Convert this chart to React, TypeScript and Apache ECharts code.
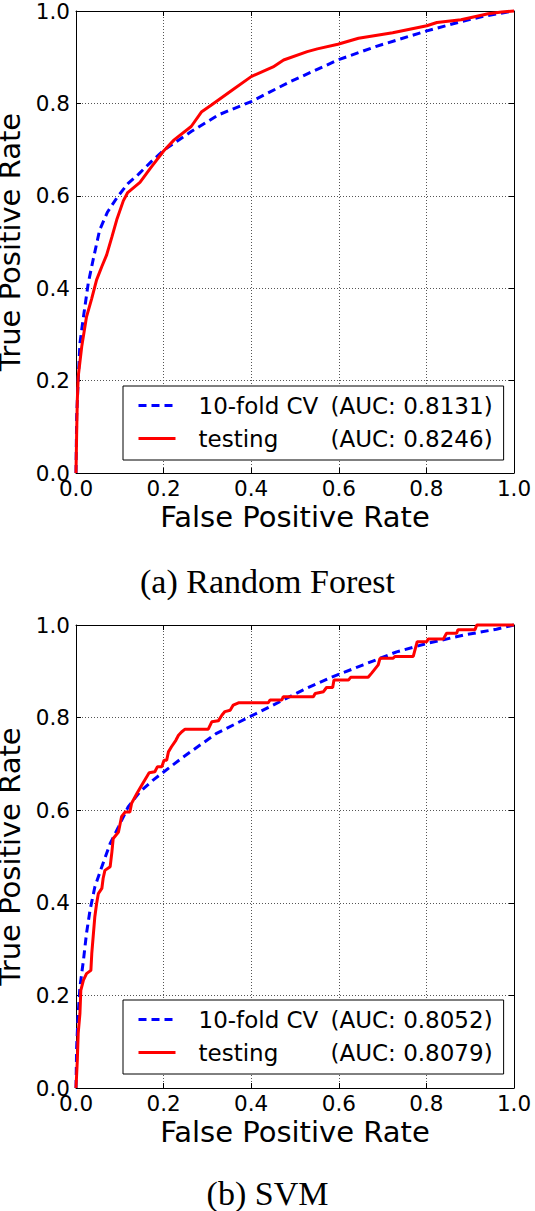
import React, { useEffect, useRef } from "react";
import * as echarts from "echarts";

const tickValues = [0, 0.2, 0.4, 0.6, 0.8, 1.0];
const tickLabels = ["0.0", "0.2", "0.4", "0.6", "0.8", "1.0"];

const xAxisName = "False Positive Rate";
const yAxisName = "True Positive Rate";
const captions = ["(a) Random Forest", "(b) SVM"];

const rfCvName = "10-fold CV (AUC: 0.8131)";
const rfTestName = "testing (AUC: 0.8246)";
const svmCvName = "10-fold CV (AUC: 0.8052)";
const svmTestName = "testing (AUC: 0.8079)";

const rfCvFpr = [0, 0.0015, 0.005, 0.009, 0.017, 0.028, 0.039, 0.054, 0.072, 0.095, 0.119, 0.143, 0.173, 0.201, 0.263, 0.325, 0.4, 0.489, 0.598, 0.684, 0.801, 0.879, 0.933, 1.0];
const rfCvTpr = [0, 0.122, 0.201, 0.281, 0.338, 0.411, 0.461, 0.526, 0.565, 0.598, 0.627, 0.647, 0.675, 0.699, 0.739, 0.775, 0.804, 0.847, 0.894, 0.923, 0.957, 0.977, 0.989, 1.0];

const rfTestFpr = [0, 0.0015, 0.003, 0.005, 0.013, 0.024, 0.036, 0.047, 0.059, 0.07, 0.082, 0.093, 0.108, 0.118, 0.146, 0.17, 0.2, 0.224, 0.263, 0.287, 0.31, 0.357, 0.4, 0.45, 0.474, 0.528, 0.551, 0.598, 0.645, 0.723, 0.801, 0.824, 0.879, 0.941, 0.972, 1.0];
const rfTestTpr = [0, 0.086, 0.158, 0.208, 0.273, 0.338, 0.378, 0.418, 0.447, 0.472, 0.511, 0.548, 0.589, 0.607, 0.629, 0.66, 0.697, 0.721, 0.75, 0.782, 0.797, 0.829, 0.858, 0.879, 0.894, 0.912, 0.918, 0.928, 0.941, 0.953, 0.968, 0.975, 0.981, 0.994, 0.998, 1.0];

const svmCvFpr = [0, 0.0015, 0.005, 0.009, 0.017, 0.024, 0.032, 0.043, 0.059, 0.078, 0.097, 0.119, 0.146, 0.176, 0.245, 0.321, 0.397, 0.473, 0.519, 0.58, 0.656, 0.732, 0.801, 0.884, 0.96, 1.0];
const svmCvTpr = [0, 0.089, 0.161, 0.218, 0.276, 0.334, 0.384, 0.434, 0.478, 0.528, 0.564, 0.607, 0.64, 0.665, 0.715, 0.766, 0.802, 0.838, 0.86, 0.886, 0.914, 0.942, 0.96, 0.978, 0.991, 1.0];

const svmTestFpr = [0, 0.003, 0.005, 0.009, 0.011, 0.017, 0.024, 0.034, 0.036, 0.043, 0.047, 0.051, 0.059, 0.062, 0.066, 0.078, 0.082, 0.085, 0.097, 0.104, 0.112, 0.123, 0.127, 0.139, 0.15, 0.167, 0.18, 0.186, 0.196, 0.201, 0.207, 0.211, 0.218, 0.228, 0.234, 0.241, 0.249, 0.302, 0.31, 0.325, 0.333, 0.34, 0.352, 0.359, 0.371, 0.439, 0.443, 0.47, 0.473, 0.542, 0.546, 0.565, 0.572, 0.586, 0.589, 0.622, 0.627, 0.667, 0.675, 0.69, 0.694, 0.724, 0.728, 0.77, 0.779, 0.801, 0.804, 0.839, 0.846, 0.869, 0.872, 0.911, 0.915, 1.0];
const svmTestTpr = [0, 0.06, 0.118, 0.161, 0.211, 0.233, 0.247, 0.254, 0.29, 0.37, 0.398, 0.42, 0.431, 0.453, 0.47, 0.478, 0.51, 0.539, 0.553, 0.586, 0.596, 0.596, 0.615, 0.636, 0.654, 0.681, 0.683, 0.694, 0.694, 0.708, 0.708, 0.726, 0.737, 0.751, 0.762, 0.769, 0.775, 0.775, 0.791, 0.793, 0.805, 0.813, 0.816, 0.827, 0.832, 0.832, 0.838, 0.838, 0.845, 0.845, 0.852, 0.856, 0.865, 0.865, 0.881, 0.881, 0.887, 0.887, 0.896, 0.914, 0.928, 0.928, 0.932, 0.932, 0.964, 0.964, 0.97, 0.97, 0.982, 0.982, 0.99, 0.99, 1.0, 1.0];

const SANS = "DejaVu Sans";
const SERIF = "Liberation Serif";
const CV_COLOR = "#0000ff";
const TEST_COLOR = "#ff0000";
const CV_DASH = [8, 5];

function zip(xs: number[], ys: number[]) {
  return xs.map((x, i) => [x, ys[i]]);
}

function tickFormatter(v: number) {
  const idx = tickValues.findIndex((t) => Math.abs(t - v) < 1e-6);
  return idx >= 0 ? tickLabels[idx] : "";
}

const gridBoxes = [
  { left: 76, top: 11, width: 438, height: 462 },
  { left: 76, top: 625, width: 438, height: 463 },
];

function mainXAxis(gridIndex: number) {
  return {
    gridIndex,
    type: "value",
    position: "bottom",
    min: 0,
    max: 1,
    interval: 0.2,
    axisLine: { show: true, onZero: false, lineStyle: { color: "#000", width: 1 } },
    axisTick: { show: true, inside: true, length: 5, lineStyle: { color: "#000", width: 1 } },
    axisLabel: { margin: 4, fontSize: 21.5, fontFamily: SANS, color: "#000", formatter: tickFormatter },
    splitLine: { show: true, lineStyle: { type: [1, 2], color: "#555", width: 1 } },
    name: xAxisName,
    nameLocation: "middle",
    nameGap: 29,
    nameTextStyle: { fontSize: 29, fontFamily: SANS, color: "#000" },
  };
}

function mainYAxis(gridIndex: number) {
  return {
    gridIndex,
    type: "value",
    position: "left",
    min: 0,
    max: 1,
    interval: 0.2,
    axisLine: { show: true, onZero: false, lineStyle: { color: "#000", width: 1 } },
    axisTick: { show: true, inside: true, length: 5, lineStyle: { color: "#000", width: 1 } },
    axisLabel: { margin: 6, fontSize: 21.5, fontFamily: SANS, color: "#000", formatter: tickFormatter },
    splitLine: { show: true, lineStyle: { type: [1, 2], color: "#555", width: 1 } },
    name: yAxisName,
    nameLocation: "middle",
    nameRotate: 90,
    nameGap: 44,
    nameTextStyle: { fontSize: 29, lineHeight: 28, fontFamily: SANS, color: "#000" },
  };
}

function frameAxis(gridIndex: number, position: string) {
  return {
    gridIndex,
    type: "value",
    position,
    min: 0,
    max: 1,
    interval: 0.2,
    axisLine: { show: true, onZero: false, lineStyle: { color: "#000", width: 1 } },
    axisTick: { show: true, inside: true, length: 5, lineStyle: { color: "#000", width: 1 } },
    axisLabel: { show: false },
    splitLine: { show: false },
  };
}

function legendFor(top: number, cvName: string, testName: string) {
  return {
    left: 123,
    top,
    orient: "vertical",
    selectedMode: false,
    itemWidth: 37,
    itemHeight: 14,
    itemGap: 10,
    padding: [8, 11, 10, 14],
    borderColor: "#000",
    borderWidth: 1,
    borderRadius: 0,
    backgroundColor: "#fff",
    itemStyle: { color: "rgba(0,0,0,0)", borderWidth: 0 },
    data: [
      { name: cvName, lineStyle: { color: CV_COLOR, width: 3, type: CV_DASH } },
      { name: testName, lineStyle: { color: TEST_COLOR, width: 3, type: "solid" } },
    ],
    formatter: (name: string) => {
      const i = name.indexOf(" (");
      return "{n|" + name.slice(0, i) + "}{v|" + name.slice(i + 1) + "}";
    },
    textStyle: {
      fontFamily: SANS,
      fontSize: 23,
      color: "#000",
      rich: {
        n: { fontFamily: SANS, fontSize: 23, color: "#000", width: 132, padding: [0, 0, 0, 18] },
        v: { fontFamily: SANS, fontSize: 23, color: "#000" },
      },
    },
  };
}

function lineSeries(name: string, idx: number, data: number[][], color: string, dashed: boolean, z: number) {
  return {
    type: "line",
    name,
    xAxisIndex: idx * 2,
    yAxisIndex: idx * 2,
    data,
    symbol: "none",
    showSymbol: false,
    clip: false,
    smooth: false,
    z,
    itemStyle: { color },
    lineStyle: { color, width: 3, type: dashed ? CV_DASH : "solid" },
  };
}

export default function App() {
  const ref = useRef<HTMLDivElement>(null);
  useEffect(() => {
    if (!ref.current) return;
    const chart = echarts.init(ref.current, null, { renderer: "svg" });
    const option = {
      animation: false,
      backgroundColor: "#fff",
      grid: gridBoxes.map((g) => ({ ...g, containLabel: false, outerBoundsMode: "none" })),
      xAxis: [mainXAxis(0), frameAxis(0, "top"), mainXAxis(1), frameAxis(1, "top")],
      yAxis: [mainYAxis(0), frameAxis(0, "right"), mainYAxis(1), frameAxis(1, "right")],
      legend: [legendFor(386, rfCvName, rfTestName), legendFor(1000, svmCvName, svmTestName)],
      series: [
        lineSeries(rfCvName, 0, zip(rfCvFpr, rfCvTpr), CV_COLOR, true, 3),
        lineSeries(rfTestName, 0, zip(rfTestFpr, rfTestTpr), TEST_COLOR, false, 4),
        lineSeries(svmCvName, 1, zip(svmCvFpr, svmCvTpr), CV_COLOR, true, 3),
        lineSeries(svmTestName, 1, zip(svmTestFpr, svmTestTpr), TEST_COLOR, false, 4),
      ],
      graphic: [
        {
          type: "text",
          x: 267.5,
          y: 581,
          style: { text: captions[0], fontSize: 34, fontFamily: SERIF, fill: "#000", align: "center", verticalAlign: "middle" },
        },
        {
          type: "text",
          x: 267.5,
          y: 1193,
          style: { text: captions[1], fontSize: 34, fontFamily: SERIF, fill: "#000", align: "center", verticalAlign: "middle" },
        },
      ],
    };
    chart.setOption(option as any);
    return () => chart.dispose();
  }, []);
  return (
    <div
      ref={ref}
      style={{ position: "absolute", left: 0, top: 0, width: 535, height: 1211, background: "#fff" }}
    />
  );
}
